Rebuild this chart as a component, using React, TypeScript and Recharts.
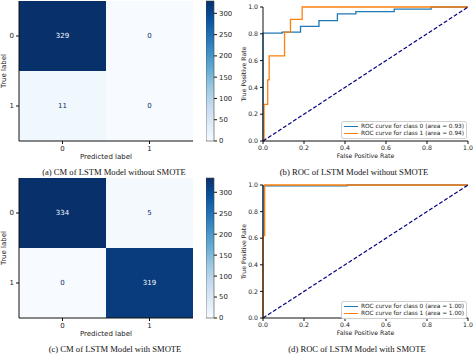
import React from "react";
import { BarChart, Bar, Cell, LabelList, XAxis, YAxis, LineChart, Line, Legend } from "recharts";

// confusion matrices: rows = true label, cols = predicted label
const predLabels = ["0", "1"];
const trueLabels = ["0", "1"];
const cmNoSmote = [
  [329, 0],
  [11, 0],
];
const cmSmote = [
  [334, 5],
  [0, 319],
];
const colorbarTicks = [0, 50, 100, 150, 200, 250, 300];

// ROC curves (fpr, tpr)
const rateTicks = [0, 0.2, 0.4, 0.6, 0.8, 1.0];
const diagonal = [
  { x: 0, y: 0 },
  { x: 1, y: 1 },
];
const rocNoSmoteClass0 = [
  { x: 0, y: 0 }, { x: 0, y: 0.805 }, { x: 0.093, y: 0.805 }, { x: 0.093, y: 0.813 },
  { x: 0.183, y: 0.813 }, { x: 0.183, y: 0.855 }, { x: 0.273, y: 0.855 }, { x: 0.273, y: 0.898 },
  { x: 0.363, y: 0.898 }, { x: 0.363, y: 0.948 }, { x: 0.453, y: 0.948 }, { x: 0.453, y: 0.965 },
  { x: 0.64, y: 0.965 }, { x: 0.64, y: 0.984 }, { x: 0.82, y: 0.984 }, { x: 0.82, y: 1.0 },
  { x: 1, y: 1 },
];
const rocNoSmoteClass1 = [
  { x: 0, y: 0 }, { x: 0.005, y: 0 }, { x: 0.005, y: 0.274 }, { x: 0.023, y: 0.274 },
  { x: 0.023, y: 0.456 }, { x: 0.03, y: 0.456 }, { x: 0.03, y: 0.636 }, { x: 0.105, y: 0.636 },
  { x: 0.105, y: 0.813 }, { x: 0.134, y: 0.813 }, { x: 0.134, y: 0.908 }, { x: 0.191, y: 0.908 },
  { x: 0.191, y: 1.0 }, { x: 1, y: 1 },
];
const rocSmoteClass0 = [
  { x: 0, y: 0 }, { x: 0, y: 0.993 }, { x: 0.41, y: 0.993 }, { x: 0.41, y: 1.0 }, { x: 1, y: 1 },
];
const rocSmoteClass1 = [
  { x: 0, y: 0 }, { x: 0, y: 0.62 }, { x: 0.008, y: 0.62 }, { x: 0.008, y: 1.0 }, { x: 1, y: 1 },
];
const aucNoSmote = [0.93, 0.94];
const aucSmote = [1.0, 1.0];

const FONT = "DejaVu Sans";
const SERIF = "Liberation Serif";
const TEXT = "#222";

// matplotlib "Blues"
const BLUES = ["#f7fbff", "#deebf7", "#c6dbef", "#9ecae1", "#6baed6", "#4292c6", "#2171b5", "#08519c", "#08306b"];

function blues(t: number) {
  const s = Math.max(0, Math.min(1, t)) * (BLUES.length - 1);
  const i = Math.min(BLUES.length - 2, Math.floor(s));
  const f = s - i;
  const a = BLUES[i], b = BLUES[i + 1];
  const ch = (c: string, k: number) => parseInt(c.slice(1 + k * 2, 3 + k * 2), 16);
  const mix = [0, 1, 2].map((k) => Math.round(ch(a, k) + (ch(b, k) - ch(a, k)) * f));
  return `rgb(${mix.join(",")})`;
}

function cmRows(m: number[][]) {
  return predLabels.map((p, j) => ({ pred: p, row1: 1, row0: 1, v0: m[0][j], v1: m[1][j] }));
}

function ConfusionMatrix({ m }: { m: number[][] }) {
  const vmax = Math.max(...m.flat());
  const rows = cmRows(m);
  const label = (props: any) => {
    const { x, y, width, height, value } = props;
    return (
      <text
        x={x + width / 2}
        y={y + height / 2}
        textAnchor="middle"
        dominantBaseline="central"
        fontSize={7}
        fontFamily={FONT}
        fill={value > vmax / 2 ? "#f7fbff" : "#08306b"}
      >
        {value}
      </text>
    );
  };
  const tick = { fontSize: 7, fontFamily: FONT, fill: TEXT };
  return (
    <BarChart width={200} height={165} data={rows} margin={{ top: 1, right: 7, left: 0, bottom: 0 }} barCategoryGap={0}>
      <Bar dataKey="row1" stackId="s" isAnimationActive={false}>
        {rows.map((r) => (
          <Cell key={r.pred} fill={blues(r.v1 / vmax)} />
        ))}
        <LabelList dataKey="v1" content={label} />
      </Bar>
      <Bar dataKey="row0" stackId="s" isAnimationActive={false}>
        {rows.map((r) => (
          <Cell key={r.pred} fill={blues(r.v0 / vmax)} />
        ))}
        <LabelList dataKey="v0" content={label} />
      </Bar>
      <XAxis
        dataKey="pred"
        height={24}
        tickSize={3}
        stroke="#111"
        tick={tick}
        label={{ value: "Predicted label", position: "insideBottom", offset: 6, style: { ...tick, fill: TEXT } }}
      />
      <YAxis
        type="number"
        domain={[0, 2]}
        ticks={[0.5, 1.5]}
        tickFormatter={(v: number) => trueLabels[v > 1 ? 0 : 1]}
        width={19}
        tickSize={3}
        stroke="#111"
        tick={tick}
        label={{ value: "True label", angle: -90, position: "insideLeft", offset: 4, style: { ...tick, textAnchor: "middle" } }}
      />
      <XAxis xAxisId="top" orientation="top" dataKey="pred" height={0} tick={false} tickLine={false} stroke="#111" />
      <YAxis yAxisId="right" orientation="right" type="number" domain={[0, 2]} width={0} tick={false} tickLine={false} stroke="#111" />
    </BarChart>
  );
}

function ColorBar({ vmax, id }: { vmax: number; id: string }) {
  return (
    <BarChart width={34} height={148} data={[{ name: "cb", v: vmax }]} margin={{ top: 4, right: 0, left: 0, bottom: 4 }} barCategoryGap={0}>
      <defs>
        <linearGradient id={id} x1="0" y1="1" x2="0" y2="0">
          {BLUES.map((c, i) => (
            <stop key={c} offset={i / (BLUES.length - 1)} stopColor={c} />
          ))}
        </linearGradient>
      </defs>
      <XAxis dataKey="name" hide />
      <YAxis
        orientation="right"
        type="number"
        domain={[0, vmax]}
        ticks={colorbarTicks}
        interval={0}
        width={26}
        tickSize={3}
        axisLine={false}
        stroke="#111"
        tick={{ fontSize: 6.9, fontFamily: FONT, fill: TEXT, textAnchor: "start" }}
      />
      <Bar dataKey="v" fill={`url(#${id})`} stroke="#444" strokeWidth={0.6} isAnimationActive={false} />
    </BarChart>
  );
}

function RocLegend({ payload }: any) {
  const items = (payload || []).filter((p: any) => p.type !== "none");
  return (
    <div
      style={{
        boxSizing: "border-box",
        width: 126,
        border: "1px solid #d0d0d0",
        borderRadius: 2,
        background: "#fff",
        padding: "1px 1px 1px 2px",
        fontFamily: FONT,
        fontSize: 5.8,
        color: TEXT,
        lineHeight: "7px",
      }}
    >
      {items.map((p: any) => (
        <div key={p.value} style={{ display: "flex", alignItems: "center", height: 7, whiteSpace: "nowrap" }}>
          <span style={{ display: "inline-block", width: 14, height: 0, borderTop: `1.3px solid ${p.color}`, marginRight: 3, flexShrink: 0 }} />
          <span>{p.value}</span>
        </div>
      ))}
    </div>
  );
}

function Roc({ c0, c1, auc, height, legendTop }: { c0: any[]; c1: any[]; auc: number[]; height: number; legendTop: number }) {
  const tick = { fontSize: 6.2, fontFamily: FONT, fill: TEXT };
  const fmt = (v: number) => v.toFixed(1);
  return (
    <LineChart width={240} height={height} margin={{ top: 7, right: 6, left: 0, bottom: 0 }}>
      <XAxis
        type="number"
        dataKey="x"
        domain={[0, 1]}
        ticks={rateTicks}
        interval={0}
        tickFormatter={fmt}
        height={24}
        tickSize={3}
        stroke="#111"
        tick={tick}
        label={{ value: "False Positive Rate", position: "insideBottom", offset: 7, style: tick }}
      />
      <YAxis
        type="number"
        dataKey="y"
        domain={[0, 1]}
        ticks={rateTicks}
        interval={0}
        tickFormatter={fmt}
        width={29}
        tickSize={3}
        stroke="#111"
        tick={tick}
        label={{ value: "True Positive Rate", angle: -90, position: "insideLeft", offset: 10, style: { ...tick, textAnchor: "middle" } }}
      />
      <XAxis xAxisId="top" orientation="top" type="number" domain={[0, 1]} height={0} tick={false} tickLine={false} stroke="#111" />
      <YAxis yAxisId="right" orientation="right" type="number" domain={[0, 1]} width={0} tick={false} tickLine={false} stroke="#111" />
      <Line
        data={c0}
        dataKey="y"
        name={`ROC curve for class 0 (area = ${auc[0].toFixed(2)})`}
        stroke="#1f77b4"
        strokeWidth={1.3}
        dot={false}
        legendType="plainline"
        isAnimationActive={false}
      />
      <Line
        data={c1}
        dataKey="y"
        name={`ROC curve for class 1 (area = ${auc[1].toFixed(2)})`}
        stroke="#ff7f0e"
        strokeWidth={1.3}
        dot={false}
        legendType="plainline"
        isAnimationActive={false}
      />
      <Line
        data={diagonal}
        dataKey="y"
        stroke="#000080"
        strokeWidth={1.2}
        strokeDasharray="4 2"
        dot={false}
        legendType="none"
        isAnimationActive={false}
      />
      <Legend
        layout="vertical"
        align="center"
        verticalAlign="middle"
        content={<RocLegend />}
        wrapperStyle={{ position: "absolute", left: 107, top: legendTop, width: 126 }}
      />
    </LineChart>
  );
}

const titleStyle: React.CSSProperties = {
  position: "absolute",
  width: 220,
  textAlign: "center",
  fontFamily: SERIF,
  fontSize: 8.6,
  lineHeight: "10px",
  color: "#111",
  whiteSpace: "nowrap",
};

export default function App() {
  return (
    <div style={{ position: "absolute", left: 0, top: 0, width: 474, height: 361, background: "#fff", overflow: "hidden" }}>
      <div style={{ position: "absolute", left: 0, top: 0 }}>
        <ConfusionMatrix m={cmNoSmote} />
      </div>
      <div style={{ position: "absolute", left: 206, top: -3 }}>
        <ColorBar vmax={Math.max(...cmNoSmote.flat())} id="cbA" />
      </div>
      <div style={{ position: "absolute", left: 234, top: 0 }}>
        <Roc c0={rocNoSmoteClass0} c1={rocNoSmoteClass1} auc={aucNoSmote} height={165} legendTop={121} />
      </div>
      <div style={{ ...titleStyle, left: 114 - 110, top: 167 }}>(a) CM of LSTM Model without SMOTE</div>
      <div style={{ ...titleStyle, left: 354 - 110, top: 167 }}>(b) ROC of LSTM Model without SMOTE</div>

      <div style={{ position: "absolute", left: 0, top: 177 }}>
        <ConfusionMatrix m={cmSmote} />
      </div>
      <div style={{ position: "absolute", left: 206, top: 174 }}>
        <ColorBar vmax={Math.max(...cmSmote.flat())} id="cbC" />
      </div>
      <div style={{ position: "absolute", left: 234, top: 178 }}>
        <Roc c0={rocSmoteClass0} c1={rocSmoteClass1} auc={aucSmote} height={164} legendTop={123} />
      </div>
      <div style={{ ...titleStyle, left: 115 - 110, top: 344 }}>(c) CM of LSTM Model with SMOTE</div>
      <div style={{ ...titleStyle, left: 357 - 110, top: 344 }}>(d) ROC of LSTM Model with SMOTE</div>
    </div>
  );
}
